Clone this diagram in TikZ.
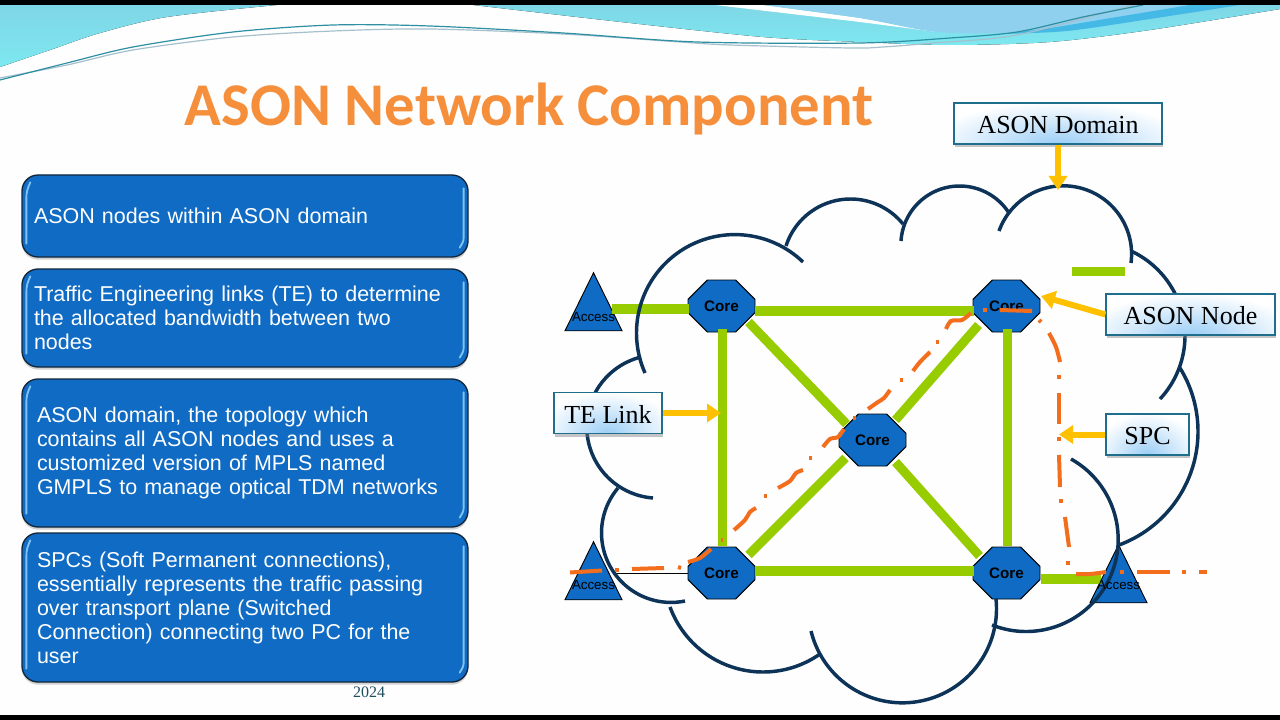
\documentclass[tikz,border=0pt]{standalone}
\usepackage{fontspec}
\setmainfont{Liberation Sans}
\newfontfamily\titlefont{Carlito}
\newfontfamily\labelfont{Liberation Serif}
\usetikzlibrary{shapes.misc,shapes.geometric,arrows.meta,shadows}
\definecolor{pagebg}{HTML}{FEFEFE}
\definecolor{wavecyan}{HTML}{7DE8F0}
\definecolor{wavetop}{HTML}{7FD6E6}
\definecolor{wavelight}{HTML}{8FD0EE}
\definecolor{waveband}{HTML}{45B9E6}
\definecolor{lineteal}{HTML}{2E8FA3}
\definecolor{linegrey}{HTML}{A5C0CC}
\definecolor{titleorange}{HTML}{F58F3C}
\definecolor{boxblue}{HTML}{0F6BC3}
\definecolor{boxedge}{HTML}{12263A}
\definecolor{glossblue}{HTML}{7FC4F0}
\definecolor{linkgreen}{HTML}{96CC00}
\definecolor{cloudnavy}{HTML}{0D3358}
\definecolor{spcorange}{HTML}{F26D1C}
\definecolor{arrowyellow}{HTML}{FFC000}
\definecolor{labeledge}{HTML}{1F6E8C}
\definecolor{labelblue}{HTML}{9CCEF6}
\definecolor{yearteal}{HTML}{1F4E5F}
\tikzset{
  infobox/.style={draw=boxedge,line width=1pt,fill=boxblue,rounded corners=12pt,
    minimum width=446*0.75pt,text=white,font=\fontsize{16.1}{18}\selectfont,
    align=left,drop shadow={shadow xshift=0pt,shadow yshift=-2pt,opacity=.35}},
  gloss/.style={glossblue,line width=1.4pt,line cap=round},
  corebox/.style={chamfered rectangle,chamfered rectangle xsep=10.5pt,chamfered rectangle ysep=10.5pt,
    draw=black,line width=.7pt,fill=boxblue,minimum width=67*0.75pt,minimum height=52*0.75pt,inner sep=0pt,
    font=\bfseries\fontsize{11.4}{12}\selectfont},
  accessbox/.style={isosceles triangle,isosceles triangle stretches,shape border rotate=90,
    draw=black,line width=.7pt,fill=boxblue,minimum width=57*0.75pt,minimum height=58*0.75pt,inner sep=0pt},
  accesstext/.style={font=\fontsize{10}{11}\selectfont,inner sep=0pt},
  greenlink/.style={linkgreen,line width=6.8pt},
  cloudarc/.style={cloudnavy,line width=2.6pt},
  sketchline/.style={spcorange,line width=3pt},
  pointer/.style={arrowyellow,line width=4.5pt,-{Triangle[width=13.5pt,length=10.5pt]}},
  labelbox/.style={draw=labeledge,line width=1pt,fill=white,inner sep=0pt,minimum width=#1*0.75pt,
    minimum height=41*0.75pt,text height=15pt,text depth=0pt,font=\labelfont\fontsize{19.5}{22}\selectfont,
    drop shadow={shadow xshift=1pt,shadow yshift=-2.5pt,opacity=.45},
    path picture={\shade[inner color=labelblue,outer color=white] (path picture bounding box.south)
      ellipse [x radius=#1*0.64,y radius=42];}},
}
\newcommand{\addgloss}[1]{
  \draw[gloss] ([shift={(9,8)}]#1.north west) to[out=-115,in=90] ([shift={(5,24)}]#1.north west) -- ([shift={(5,-14)}]#1.south west);
  \draw[gloss] ([shift={(-5,14)}]#1.north east) -- ([shift={(-5,-20)}]#1.south east) to[out=-90,in=60] ([shift={(-9,-10)}]#1.south east);
}
% circular arc through three points, given in pixels
\newcommand{\threearc}[6]{%
  \pgfmathsetmacro{\ax}{(#3-#1)/100}\pgfmathsetmacro{\ay}{(#4-#2)/100}%
  \pgfmathsetmacro{\bx}{(#5-#1)/100}\pgfmathsetmacro{\by}{(#6-#2)/100}%
  \pgfmathsetmacro{\dd}{2*(\ax*\by-\ay*\bx)}%
  \pgfmathsetmacro{\aa}{\ax*\ax+\ay*\ay}\pgfmathsetmacro{\bb}{\bx*\bx+\by*\by}%
  \pgfmathsetmacro{\cx}{#1+100*(\by*\aa-\ay*\bb)/\dd}%
  \pgfmathsetmacro{\cy}{#2+100*(\ax*\bb-\bx*\aa)/\dd}%
  \pgfmathsetmacro{\rr}{sqrt((#1-\cx)*(#1-\cx)/10000+(#2-\cy)*(#2-\cy)/10000)*100}%
  \pgfmathsetmacro{\sa}{atan2(#2-\cy,#1-\cx)}%
  \pgfmathsetmacro{\ma}{atan2(#4-\cy,#3-\cx)}%
  \pgfmathsetmacro{\ea}{atan2(#6-\cy,#5-\cx)}%
  \pgfmathsetmacro{\dm}{mod(\ma-\sa+720,360)}%
  \pgfmathsetmacro{\de}{mod(\ea-\sa+720,360)}%
  \pgfmathsetmacro{\fin}{\dm<\de?\sa+\de:\sa+\de-360}%
  \draw[cloudarc] plot[domain=\sa:\fin,samples=60,smooth] ({\cx+\rr*cos(\x)},{\cy+\rr*sin(\x)});%
}
\begin{document}
\begin{tikzpicture}[x=0.75pt,y=-0.75pt]
\useasboundingbox (0,0) rectangle (1280,720);
\fill[pagebg] (0,0) rectangle (1280,720);
% waves
\fill[top color=wavetop,bottom color=wavecyan] plot[smooth] coordinates {(277,5) (167,17) (100,33) (50,50) (0,67)} -- (0,5) -- cycle;
\fill[top color=wavetop,bottom color=wavecyan] plot[smooth] coordinates {(473,5) (630,23) (763,37) (860,42) (950,45) (1050,42) (1150,30) (1280,9)} -- (1280,5) -- cycle;
\fill[white] (715,5) -- (763,5) -- (860,18) -- (937,32) -- (860,22) -- cycle;
\fill[wavelight] plot[smooth] coordinates {(763,5) (860,18) (937,32) (1017,32) (1117,17) (1190,5)} -- cycle;
\fill[waveband] plot[smooth] coordinates {(1000,34) (1067,31) (1150,19) (1240,5)} -- plot[smooth] coordinates {(1190,5) (1117,17) (1050,28) (1000,34)} -- cycle;
\draw[linegrey,line width=.9pt] plot[smooth] coordinates {(0,78) (67,65) (133,50) (233,37) (333,31) (430,29) (563,34) (680,42) (730,45) (850,48) (883,47) (933,43) (1017,35) (1133,5)};
\draw[lineteal,line width=.9pt] plot[smooth] coordinates {(0,80) (67,63) (133,47) (233,32) (333,25) (430,26) (563,33) (697,42) (860,43) (950,38) (1017,32) (1083,17) (1143,5)};
% title
\node[font=\titlefont\bfseries\fontsize{45.5}{48}\selectfont,text=titleorange,inner sep=0pt] (title) at (529,109) {ASON Network Component};
% info boxes
\node[infobox,minimum height=82*0.75pt,text width=422*0.75pt,inner xsep=12*0.75pt,inner ysep=0pt] (info1) at (245,216) {ASON nodes within ASON domain};
\node[infobox,minimum height=98*0.75pt,text width=422*0.75pt,inner xsep=12*0.75pt,inner ysep=0pt] (info2) at (245,318) {Traffic Engineering links (TE) to determine\\the allocated bandwidth between two\\nodes};
\node[infobox,minimum height=148*0.75pt,text width=416*0.75pt,inner xsep=15*0.75pt,inner ysep=0pt] (info3) at (245,453) {ASON domain, the topology which\\contains all ASON nodes and uses a\\customized version of MPLS named\\GMPLS to manage optical TDM networks};
\node[infobox,minimum height=149*0.75pt,text width=416*0.75pt,inner xsep=15*0.75pt,inner ysep=0pt] (info4) at (245,607.5) {SPCs (Soft Permanent connections),\\essentially represents the traffic passing\\over transport plane (Switched\\Connection) connecting two PC for the\\user};
\addgloss{info1}\addgloss{info2}\addgloss{info3}\addgloss{info4}
\node[font=\labelfont\fontsize{12}{14}\selectfont,text=yearteal,inner sep=0pt] (year) at (369,692) {2024};
% network nodes
\node[accessbox] (acc1) at (593.5,313) {};
\node[accessbox] (acc2) at (593.5,582) {};
\node[accessbox] (acc3) at (1118.5,585) {};
\node[corebox] (core1) at (721.5,306) {Core};
\node[corebox] (core2) at (1006.5,306) {Core};
\node[corebox] (core3) at (872.5,440) {Core};
\node[corebox] (core4) at (721.5,573) {Core};
\node[corebox] (core5) at (1006.5,573) {Core};
% links
\draw[greenlink] ([shift={(18,-4)}]acc1.center) -- ([shift={(-33,3)}]core1.center);
\draw[greenlink] ([shift={(33,5)}]core1.center) -- ([shift={(-33,5)}]core2.center);
\draw[greenlink] ([shift={(1,23)}]core1.center) -- ([shift={(1,-27)}]core4.center);
\draw[greenlink] ([shift={(1,23)}]core2.center) -- ([shift={(1,-27)}]core5.center);
\draw[greenlink] ([shift={(33,-2)}]core4.center) -- ([shift={(-33,-2)}]core5.center);
\draw[greenlink] ([shift={(34,6)}]core5.center) -- ([shift={(-18,-6)}]acc3.center);
\draw[greenlink] ([shift={(27,16)}]core1.center) -- ([shift={(-26,-16)}]core3.center);
\draw[greenlink] ([shift={(23,-20)}]core3.center) -- ([shift={(-28,19)}]core2.center);
\draw[greenlink] ([shift={(-27,18)}]core3.center) -- ([shift={(27,-18)}]core4.center);
\draw[greenlink] ([shift={(23,22)}]core3.center) -- ([shift={(-27,-17)}]core5.center);
\draw[black,line width=.7pt] ([shift={(19,-9)}]acc2.center) -- (core4.west);
\coordinate (stubA) at (1072,271.5);
\coordinate (stubB) at (1125,271.5);
\draw[greenlink] (stubA) -- (stubB);
% cloud
\threearc{803}{262}{687}{247}{645}{373}
\threearc{786}{246}{851}{199}{903}{224}
\threearc{901}{241}{959}{186}{1009}{213}
\threearc{999}{231}{1058}{186}{1131}{263}
\threearc{1131}{251}{1185}{335}{1160}{399}
\threearc{1180}{368}{1198}{433}{1119}{545}
\threearc{1071}{459}{1118}{545}{992}{625}
\threearc{996}{599}{940}{695}{811}{631}
\threearc{820}{654}{762}{672}{670}{607}
\threearc{685}{601}{607}{560}{618}{488}
\threearc{653}{498}{587}{433}{641}{357}
% access captions
\node[accesstext] (acct1) at (593.5,317) {Access};
\node[accesstext] (acct2) at (593.5,584.5) {Access};
\node[accesstext] (acct3) at (1118.5,584.5) {Access};
% SPC sketch
\begin{scope}[sketchline]
\draw (570,572.5) -- (602,570.5);
\draw (615,570) -- (619,570);
\draw (632,569) -- (664,568);
\draw (678,567) -- (681,568);
\draw plot[smooth] coordinates {(688,562) (700,558) (711,549)};
\draw (721,540) -- (723,540);
\draw plot[smooth] coordinates {(734,530) (745,520) (750,512) (756,508)};
\draw (764,496) -- (767,496);
\draw plot[smooth] coordinates {(778,488) (790,481) (796,473) (803,470)};
\draw (809,458) -- (812,458);
\draw plot[smooth] coordinates {(823,447) (830,439) (838,437) (844,429)};
\draw (853,418) -- (856,418);
\draw plot[smooth] coordinates {(868,409) (878,402) (884,398) (890,390)};
\draw (900,380) -- (903,380);
\draw plot[smooth] coordinates {(913,371) (920,362) (930,352)};
\draw (936,342) -- (939,342);
\draw plot[smooth] coordinates {(946,329) (951,321) (962,320) (971,313)};
\draw (983,310) -- (987,310);
\draw (1000,310) -- (1032,311);
\draw (1039,320) -- (1041,322);
\draw plot[smooth] coordinates {(1049,333) (1056,347) (1060,362)};
\draw (1059,375) -- (1059,379);
\draw (1059,393) -- (1059,424);
\draw (1059,437) -- (1059,441);
\draw (1059,455) -- (1060,487);
\draw (1061,499) -- (1061,503);
\draw (1065,517) -- (1069,547);
\draw (1068,561) -- (1068,565);
\draw plot[smooth] coordinates {(1076,574) (1090,574) (1106,572)};
\draw (1120,572) -- (1124,572);
\draw (1137,572) -- (1170,572);
\draw (1182,572) -- (1186,572);
\draw (1199,572) -- (1207,572);
\end{scope}
% label boxes
\node[labelbox=208] (domain) at (1058,123.5) {ASON Domain};
\node[labelbox=169] (asonnode) at (1190.5,314.5) {ASON Node};
\node[labelbox=83] (spc) at (1147.5,434.5) {SPC};
\node[labelbox=108] (te) at (608,413) {TE Link};
\coordinate (domtip) at (1058,190);
\coordinate (nodetip) at (1041,296);
\coordinate (spctip) at (1059,434.5);
\coordinate (tetip) at (721,413);
\draw[pointer] (domain.south) -- (domtip);
\draw[pointer] (asonnode.west) -- (nodetip);
\draw[pointer] (spc.west) -- (spctip);
\draw[pointer] (te.east) -- (tetip);
% frame bars
\fill[black] (0,0) rectangle (1280,5);
\fill[black] (0,715) rectangle (1280,720);
\end{tikzpicture}
\end{document}
